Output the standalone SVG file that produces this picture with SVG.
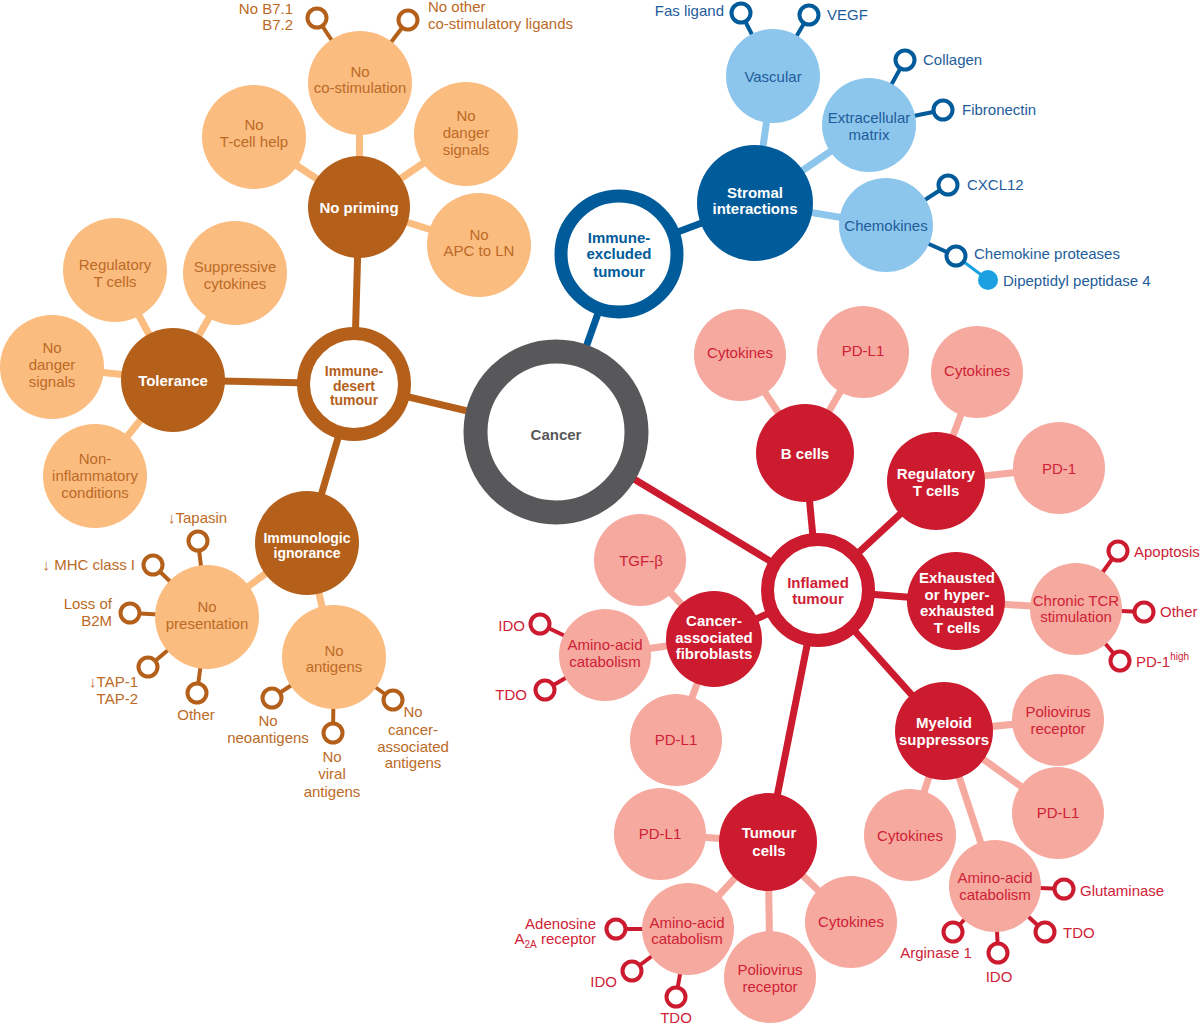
<svg xmlns="http://www.w3.org/2000/svg" width="1200" height="1028" viewBox="0 0 1200 1028">
<style>
text{font-family:"Liberation Sans",Arial,sans-serif;font-size:15px}
.b{font-weight:bold}
.s{font-size:14px}
.m{text-anchor:middle}
.e{text-anchor:end}
.wt{fill:#fff}
.ot{fill:#BC6A26}
.bt{fill:#1E5C9A}
.rt{fill:#CF2236}
.gt{fill:#58585A}
.od{fill:#B4601B}
.ol{fill:#FBBC80}
.bd{fill:#005B9A}
.bl{fill:#8DC6EC}
.rd{fill:#CC1A2E}
.rl{fill:#F6A99E}
.cO{stroke:#B4601B;stroke-width:7;fill:none}
.cOl{stroke:#FBBC80;stroke-width:7;fill:none}
.cB{stroke:#005B9A;stroke-width:7;fill:none}
.cBl{stroke:#8DC6EC;stroke-width:7;fill:none}
.cR{stroke:#CC1A2E;stroke-width:7;fill:none}
.cRl{stroke:#F6A99E;stroke-width:7;fill:none}
.sO{stroke:#B4601B;stroke-width:4}
.sB{stroke:#005B9A;stroke-width:4}
.sR{stroke:#CC1A2E;stroke-width:4}
.lO{fill:#fff;stroke:#B4601B;stroke-width:4}
.lB{fill:#fff;stroke:#005B9A;stroke-width:4}
.lR{fill:#fff;stroke:#CC1A2E;stroke-width:4}
</style>
<rect width="1200" height="1028" fill="#fff"/>
<g id="connectors">
<line class="cO" x1="556" y1="432" x2="354" y2="384"/>
<line class="cO" x1="354" y1="384" x2="359" y2="207"/>
<line class="cO" x1="354" y1="384" x2="173" y2="380"/>
<line class="cO" x1="354" y1="384" x2="307" y2="543"/>
<line class="cOl" x1="359" y1="207" x2="360" y2="83"/>
<line class="cOl" x1="359" y1="207" x2="254" y2="137"/>
<line class="cOl" x1="359" y1="207" x2="466" y2="134"/>
<line class="cOl" x1="359" y1="207" x2="479" y2="245"/>
<line class="cOl" x1="173" y1="380" x2="115" y2="270"/>
<line class="cOl" x1="173" y1="380" x2="235" y2="273"/>
<line class="cOl" x1="173" y1="380" x2="52" y2="367"/>
<line class="cOl" x1="173" y1="380" x2="95" y2="476"/>
<line class="cOl" x1="307" y1="543" x2="207" y2="617"/>
<line class="cOl" x1="307" y1="543" x2="334" y2="657"/>
<line class="sO" x1="360" y1="83" x2="317" y2="18"/>
<line class="sO" x1="360" y1="83" x2="408" y2="20"/>
<line class="sO" x1="207" y1="617" x2="198" y2="541"/>
<line class="sO" x1="207" y1="617" x2="153" y2="565"/>
<line class="sO" x1="207" y1="617" x2="130" y2="613"/>
<line class="sO" x1="207" y1="617" x2="148" y2="667"/>
<line class="sO" x1="207" y1="617" x2="197" y2="693"/>
<line class="sO" x1="334" y1="657" x2="272" y2="698"/>
<line class="sO" x1="334" y1="657" x2="333" y2="733"/>
<line class="sO" x1="334" y1="657" x2="393" y2="700"/>
<line class="cB" x1="556" y1="432" x2="619" y2="254"/>
<line class="cB" x1="619" y1="254" x2="755" y2="203"/>
<line class="cBl" x1="755" y1="203" x2="773" y2="76"/>
<line class="cBl" x1="755" y1="203" x2="869" y2="125"/>
<line class="cBl" x1="755" y1="203" x2="886" y2="225"/>
<line class="sB" x1="773" y1="76" x2="741" y2="13"/>
<line class="sB" x1="773" y1="76" x2="809" y2="15"/>
<line class="sB" x1="869" y1="125" x2="905" y2="60"/>
<line class="sB" x1="869" y1="125" x2="943" y2="110"/>
<line class="sB" x1="886" y1="225" x2="948" y2="185"/>
<line class="sB" x1="886" y1="225" x2="956" y2="256"/>
<line stroke="#1BA1E2" stroke-width="3" x1="956" y1="256" x2="988" y2="280"/>
<line class="cR" x1="556" y1="432" x2="818" y2="590"/>
<line class="cR" x1="818" y1="590" x2="805" y2="453"/>
<line class="cR" x1="818" y1="590" x2="936" y2="481"/>
<line class="cR" x1="818" y1="590" x2="956" y2="601"/>
<line class="cR" x1="818" y1="590" x2="944" y2="731"/>
<line class="cR" x1="818" y1="590" x2="768" y2="842"/>
<line class="cR" x1="818" y1="590" x2="714" y2="639"/>
<line class="cRl" x1="805" y1="453" x2="740" y2="355"/>
<line class="cRl" x1="805" y1="453" x2="863" y2="352"/>
<line class="cRl" x1="936" y1="481" x2="977" y2="372"/>
<line class="cRl" x1="936" y1="481" x2="1059" y2="468"/>
<line class="cRl" x1="956" y1="601" x2="1076" y2="609"/>
<line class="cRl" x1="714" y1="639" x2="640" y2="560"/>
<line class="cRl" x1="714" y1="639" x2="605" y2="655"/>
<line class="cRl" x1="714" y1="639" x2="676" y2="740"/>
<line class="cRl" x1="944" y1="731" x2="1058" y2="720"/>
<line class="cRl" x1="944" y1="731" x2="1058" y2="813"/>
<line class="cRl" x1="944" y1="731" x2="910" y2="835"/>
<line class="cRl" x1="944" y1="731" x2="995" y2="886"/>
<line class="cRl" x1="768" y1="842" x2="660" y2="834"/>
<line class="cRl" x1="768" y1="842" x2="851" y2="922"/>
<line class="cRl" x1="768" y1="842" x2="770" y2="977"/>
<line class="cRl" x1="768" y1="842" x2="688" y2="929"/>
<line class="sR" x1="1076" y1="609" x2="1118" y2="551"/>
<line class="sR" x1="1076" y1="609" x2="1144" y2="612"/>
<line class="sR" x1="1076" y1="609" x2="1120" y2="661"/>
<line class="sR" x1="605" y1="655" x2="540" y2="624"/>
<line class="sR" x1="605" y1="655" x2="545" y2="690"/>
<line class="sR" x1="995" y1="886" x2="1064" y2="889"/>
<line class="sR" x1="995" y1="886" x2="1045" y2="932"/>
<line class="sR" x1="995" y1="886" x2="998" y2="953"/>
<line class="sR" x1="995" y1="886" x2="953" y2="932"/>
<line class="sR" x1="688" y1="929" x2="616" y2="929"/>
<line class="sR" x1="688" y1="929" x2="632" y2="971"/>
<line class="sR" x1="688" y1="929" x2="676" y2="997"/>
</g>

<g id="cancer">
<circle cx="556" cy="432" r="80.5" fill="#fff" stroke="#58585A" stroke-width="24"/>
<text class="b m gt" x="556" y="440">Cancer</text>
</g>

<g id="immune-desert">
<circle cx="354" cy="384" r="50.5" fill="#fff" stroke="#B4601B" stroke-width="13"/>
<text class="b s m" fill="#B4601B" x="354" y="376">Immune-</text>
<text class="b s m" fill="#B4601B" x="354" y="390.5">desert</text>
<text class="b s m" fill="#B4601B" x="354" y="405">tumour</text>
</g>
<g id="no-priming"><circle class="od" cx="359" cy="207" r="51"/><text class="b m wt" x="359" y="213">No priming</text></g>
<g id="tolerance"><circle class="od" cx="173" cy="380" r="52"/><text class="b m wt" x="173" y="386">Tolerance</text></g>
<g id="immunologic-ignorance"><circle class="od" cx="307" cy="543" r="52"/><text class="b s m wt" x="307" y="543">Immunologic</text><text class="b s m wt" x="307" y="558">ignorance</text></g>

<g id="no-costimulation"><circle class="ol" cx="360" cy="83" r="52"/><text class="m ot" x="360" y="77">No</text><text class="m ot" x="360" y="93">co-stimulation</text></g>
<g id="no-tcell-help"><circle class="ol" cx="254" cy="137" r="52"/><text class="m ot" x="254" y="130">No</text><text class="m ot" x="254" y="147">T-cell help</text></g>
<g id="no-danger-1"><circle class="ol" cx="466" cy="134" r="52"/><text class="m ot" x="466" y="121">No</text><text class="m ot" x="466" y="138">danger</text><text class="m ot" x="466" y="155">signals</text></g>
<g id="no-apc"><circle class="ol" cx="479" cy="245" r="52"/><text class="m ot" x="479" y="240">No</text><text class="m ot" x="479" y="256">APC to LN</text></g>
<g id="regulatory-t-orange"><circle class="ol" cx="115" cy="270" r="52"/><text class="m ot" x="115" y="270">Regulatory</text><text class="m ot" x="115" y="287">T cells</text></g>
<g id="suppressive-cytokines"><circle class="ol" cx="235" cy="273" r="52"/><text class="m ot" x="235" y="272">Suppressive</text><text class="m ot" x="235" y="289">cytokines</text></g>
<g id="no-danger-2"><circle class="ol" cx="52" cy="367" r="52"/><text class="m ot" x="52" y="353">No</text><text class="m ot" x="52" y="370">danger</text><text class="m ot" x="52" y="387">signals</text></g>
<g id="non-inflammatory"><circle class="ol" cx="95" cy="476" r="52"/><text class="m ot" x="95" y="464">Non-</text><text class="m ot" x="95" y="481">inflammatory</text><text class="m ot" x="95" y="498">conditions</text></g>
<g id="no-presentation"><circle class="ol" cx="207" cy="617" r="52"/><text class="m ot" x="207" y="612">No</text><text class="m ot" x="207" y="629">presentation</text></g>
<g id="no-antigens"><circle class="ol" cx="334" cy="657" r="52"/><text class="m ot" x="334" y="656">No</text><text class="m ot" x="334" y="672">antigens</text></g>

<g id="l-b7"><circle class="lO" cx="317" cy="18" r="9.5"/><text class="e ot" x="293" y="14">No B7.1</text><text class="e ot" x="293" y="30">B7.2</text></g>
<g id="l-other-costim"><circle class="lO" cx="408" cy="20" r="9.5"/><text class="ot" x="428" y="12">No other</text><text class="ot" x="428" y="29">co-stimulatory ligands</text></g>
<g id="l-tapasin"><circle class="lO" cx="198" cy="541" r="9.5"/><text class="ot" x="168" y="523">↓Tapasin</text></g>
<g id="l-mhc"><circle class="lO" cx="153" cy="565" r="9.5"/><text class="e ot" x="135" y="570">↓ MHC class I</text></g>
<g id="l-b2m"><circle class="lO" cx="130" cy="613" r="9.5"/><text class="e ot" x="112" y="609">Loss of</text><text class="e ot" x="112" y="626">B2M</text></g>
<g id="l-tap"><circle class="lO" cx="148" cy="667" r="9.5"/><text class="e ot" x="138" y="687">↓TAP-1</text><text class="e ot" x="138" y="704">TAP-2</text></g>
<g id="l-other-pres"><circle class="lO" cx="197" cy="693" r="9.5"/><text class="m ot" x="196" y="720">Other</text></g>
<g id="l-neoantigens"><circle class="lO" cx="272" cy="698" r="9.5"/><text class="m ot" x="268" y="726">No</text><text class="m ot" x="268" y="743">neoantigens</text></g>
<g id="l-viral"><circle class="lO" cx="333" cy="733" r="9.5"/><text class="m ot" x="332" y="762">No</text><text class="m ot" x="332" y="779">viral</text><text class="m ot" x="332" y="797">antigens</text></g>
<g id="l-cancer-assoc"><circle class="lO" cx="393" cy="700" r="9.5"/><text class="m ot" x="413" y="717">No</text><text class="m ot" x="413" y="735">cancer-</text><text class="m ot" x="413" y="752">associated</text><text class="m ot" x="413" y="768">antigens</text></g>

<g id="immune-excluded">
<circle cx="619" cy="254" r="58" fill="#fff" stroke="#005B9A" stroke-width="13"/>
<text class="b m" fill="#005B9A" x="619" y="243">Immune-</text>
<text class="b m" fill="#005B9A" x="619" y="259">excluded</text>
<text class="b m" fill="#005B9A" x="619" y="277">tumour</text>
</g>
<g id="stromal"><circle class="bd" cx="755" cy="203" r="58"/><text class="b m wt" x="755" y="198">Stromal</text><text class="b m wt" x="755" y="214">interactions</text></g>
<g id="vascular"><circle class="bl" cx="773" cy="76" r="47"/><text class="m bt" x="773" y="82">Vascular</text></g>
<g id="ecm"><circle class="bl" cx="869" cy="125" r="47"/><text class="m bt" x="869" y="123">Extracellular</text><text class="m bt" x="869" y="140">matrix</text></g>
<g id="chemokines"><circle class="bl" cx="886" cy="225" r="47"/><text class="m bt" x="886" y="231">Chemokines</text></g>
<g id="l-fas"><circle class="lB" cx="741" cy="13" r="9.5"/><text class="e bt" x="724" y="16">Fas ligand</text></g>
<g id="l-vegf"><circle class="lB" cx="809" cy="15" r="9.5"/><text class="bt" x="827" y="20">VEGF</text></g>
<g id="l-collagen"><circle class="lB" cx="905" cy="60" r="9.5"/><text class="bt" x="923" y="65">Collagen</text></g>
<g id="l-fibronectin"><circle class="lB" cx="943" cy="110" r="9.5"/><text class="bt" x="962" y="115">Fibronectin</text></g>
<g id="l-cxcl12"><circle class="lB" cx="948" cy="185" r="9.5"/><text class="bt" x="967" y="190">CXCL12</text></g>
<g id="l-proteases"><circle class="lB" cx="956" cy="256" r="9.5"/><text class="bt" x="974" y="259">Chemokine proteases</text></g>
<g id="l-dpp4"><circle cx="988" cy="280" r="10" fill="#1BA1E2"/><text class="bt" x="1003" y="286">Dipeptidyl peptidase 4</text></g>

<g id="inflamed">
<circle cx="818" cy="590" r="50.5" fill="#fff" stroke="#CC1A2E" stroke-width="13"/>
<text class="b m rt" x="818" y="588">Inflamed</text>
<text class="b m rt" x="818" y="604">tumour</text>
</g>
<g id="b-cells"><circle class="rd" cx="805" cy="453" r="49"/><text class="b m wt" x="805" y="459">B cells</text></g>
<g id="treg"><circle class="rd" cx="936" cy="481" r="49"/><text class="b m wt" x="936" y="479">Regulatory</text><text class="b m wt" x="936" y="496">T cells</text></g>
<g id="exhausted"><circle class="rd" cx="956" cy="601" r="49"/><text class="b m wt" x="957" y="583">Exhausted</text><text class="b m wt" x="957" y="600">or hyper-</text><text class="b m wt" x="957" y="616">exhausted</text><text class="b m wt" x="957" y="633">T cells</text></g>
<g id="caf"><circle class="rd" cx="714" cy="639" r="48"/><text class="b m wt" x="714" y="626">Cancer-</text><text class="b m wt" x="714" y="643">associated</text><text class="b m wt" x="714" y="659">fibroblasts</text></g>
<g id="myeloid"><circle class="rd" cx="944" cy="731" r="49"/><text class="b m wt" x="944" y="728">Myeloid</text><text class="b m wt" x="944" y="745">suppressors</text></g>
<g id="tumour-cells"><circle class="rd" cx="768" cy="842" r="49"/><text class="b m wt" x="769" y="838">Tumour</text><text class="b m wt" x="769" y="856">cells</text></g>

<g id="b-cytokines"><circle class="rl" cx="740" cy="355" r="46"/><text class="m rt" x="740" y="358">Cytokines</text></g>
<g id="b-pdl1"><circle class="rl" cx="863" cy="352" r="46"/><text class="m rt" x="863" y="356">PD-L1</text></g>
<g id="treg-cytokines"><circle class="rl" cx="977" cy="372" r="46"/><text class="m rt" x="977" y="376">Cytokines</text></g>
<g id="treg-pd1"><circle class="rl" cx="1059" cy="468" r="46"/><text class="m rt" x="1059" y="474">PD-1</text></g>
<g id="chronic-tcr"><circle class="rl" cx="1076" cy="609" r="46"/><text class="m rt" x="1076" y="606">Chronic TCR</text><text class="m rt" x="1076" y="622">stimulation</text></g>
<g id="tgfb"><circle class="rl" cx="640" cy="560" r="46"/><text class="m rt" x="641" y="566">TGF-β</text></g>
<g id="caf-aa"><circle class="rl" cx="605" cy="655" r="46"/><text class="m rt" x="605" y="650">Amino-acid</text><text class="m rt" x="605" y="667">catabolism</text></g>
<g id="caf-pdl1"><circle class="rl" cx="676" cy="740" r="46"/><text class="m rt" x="676" y="745">PD-L1</text></g>
<g id="my-polio"><circle class="rl" cx="1058" cy="720" r="46"/><text class="m rt" x="1058" y="717">Poliovirus</text><text class="m rt" x="1058" y="734">receptor</text></g>
<g id="my-pdl1"><circle class="rl" cx="1058" cy="813" r="46"/><text class="m rt" x="1058" y="818">PD-L1</text></g>
<g id="my-cytokines"><circle class="rl" cx="910" cy="835" r="46"/><text class="m rt" x="910" y="841">Cytokines</text></g>
<g id="my-aa"><circle class="rl" cx="995" cy="886" r="46"/><text class="m rt" x="995" y="883">Amino-acid</text><text class="m rt" x="995" y="900">catabolism</text></g>
<g id="tu-pdl1"><circle class="rl" cx="660" cy="834" r="46"/><text class="m rt" x="660" y="839">PD-L1</text></g>
<g id="tu-cytokines"><circle class="rl" cx="851" cy="922" r="46"/><text class="m rt" x="851" y="927">Cytokines</text></g>
<g id="tu-polio"><circle class="rl" cx="770" cy="977" r="46"/><text class="m rt" x="770" y="975">Poliovirus</text><text class="m rt" x="770" y="992">receptor</text></g>
<g id="tu-aa"><circle class="rl" cx="688" cy="929" r="46"/><text class="m rt" x="687" y="928">Amino-acid</text><text class="m rt" x="687" y="944">catabolism</text></g>

<g id="l-apoptosis"><circle class="lR" cx="1118" cy="551" r="9.5"/><text class="rt" x="1134" y="557">Apoptosis</text></g>
<g id="l-other-tcr"><circle class="lR" cx="1144" cy="612" r="9.5"/><text class="rt" x="1160" y="617">Other</text></g>
<g id="l-pd1high"><circle class="lR" cx="1120" cy="661" r="9.5"/><text class="rt" x="1136" y="667">PD-1<tspan font-size="10" dy="-7">high</tspan></text></g>
<g id="l-caf-ido"><circle class="lR" cx="540" cy="624" r="9.5"/><text class="e rt" x="525" y="631">IDO</text></g>
<g id="l-caf-tdo"><circle class="lR" cx="545" cy="690" r="9.5"/><text class="e rt" x="527" y="700">TDO</text></g>
<g id="l-glutaminase"><circle class="lR" cx="1064" cy="889" r="9.5"/><text class="rt" x="1080" y="896">Glutaminase</text></g>
<g id="l-my-tdo"><circle class="lR" cx="1045" cy="932" r="9.5"/><text class="rt" x="1063" y="938">TDO</text></g>
<g id="l-my-ido"><circle class="lR" cx="998" cy="953" r="9.5"/><text class="m rt" x="999" y="982">IDO</text></g>
<g id="l-arginase"><circle class="lR" cx="953" cy="932" r="9.5"/><text class="m rt" x="936" y="958">Arginase 1</text></g>
<g id="l-adenosine"><circle class="lR" cx="616" cy="929" r="9.5"/><text class="e rt" x="596" y="929">Adenosine</text><text class="e rt" x="596" y="944">A<tspan font-size="10" dy="4">2A</tspan><tspan dy="-4"> receptor</tspan></text></g>
<g id="l-tu-ido"><circle class="lR" cx="632" cy="971" r="9.5"/><text class="e rt" x="617" y="987">IDO</text></g>
<g id="l-tu-tdo"><circle class="lR" cx="676" cy="997" r="9.5"/><text class="m rt" x="676" y="1023">TDO</text></g>
</svg>
